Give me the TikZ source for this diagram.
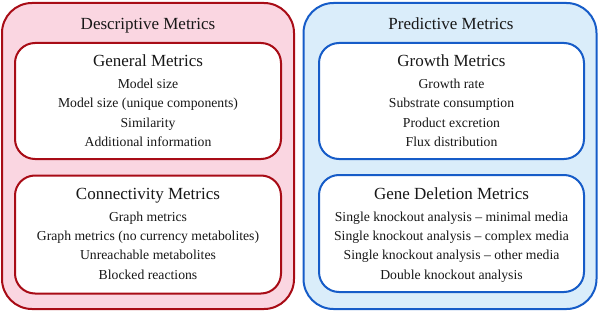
\documentclass[tikz,border=0pt]{standalone}
\usepackage{fontspec}
\setmainfont{Liberation Serif}
\usetikzlibrary{positioning}
\definecolor{descred}{RGB}{168,12,22}
\definecolor{descfill}{RGB}{250,214,225}
\definecolor{predblue}{RGB}{22,92,200}
\definecolor{predfill}{RGB}{218,237,250}
\definecolor{textgray}{RGB}{24,24,24}

\begin{document}
\begin{tikzpicture}[
  x=1pt, y=-1pt,
  outerbox/.style={draw, line width=2pt, rounded corners=30pt,
                   minimum width=292pt, minimum height=306pt, inner sep=0pt},
  innerbox/.style={draw, fill=white, line width=2pt, rounded corners=20pt,
                   minimum width=266pt, inner sep=0pt},
  toptitle/.style={anchor=base, text=textgray, font=\fontsize{17}{20}\selectfont},
  head/.style={anchor=base, text=textgray, font=\fontsize{17}{20}\selectfont},
  item/.style={anchor=base, text=textgray, font=\fontsize{13.7}{16}\selectfont}
]
  \useasboundingbox (0,0) rectangle (600,313);

  % descriptive side
  \node[outerbox, draw=descred, fill=descfill] (desc) at (148,156) {};
  \node[toptitle] (desctitle) at (148,29.3) {Descriptive Metrics};
  \node[innerbox, draw=descred, minimum height=116pt] (gen) at (148,101) {};
  \node[innerbox, draw=descred, minimum height=118pt] (conn) at (148,234.5) {};
  \node[head] (genhead) at (148,66.7) {General Metrics};
  \node[head] (connhead) at (148,199.3) {Connectivity Metrics};
  \foreach \txt [count=\i] in {Model size, Model size (unique components),
                               Similarity, Additional information}
    \node[item] (gen-\i) at (148,88.3+19.45*\i-19.45) {\txt};
  \foreach \txt [count=\i] in {Graph metrics, Graph metrics (no currency metabolites),
                               Unreachable metabolites, Blocked reactions}
    \node[item] (conn-\i) at (148,221.7+19.1*\i-19.1) {\txt};

  % predictive side
  \node[outerbox, draw=predblue, fill=predfill, minimum width=293pt] (pred) at (450,156) {};
  \node[toptitle] (predtitle) at (451,29.3) {Predictive Metrics};
  \node[innerbox, draw=predblue, minimum width=265pt, minimum height=116pt] (grow) at (451.5,101) {};
  \node[innerbox, draw=predblue, minimum width=265pt, minimum height=117pt] (gene) at (451.5,233.5) {};
  \node[head] (growhead) at (451.5,66.7) {Growth Metrics};
  \node[head] (genehead) at (451.5,199.3) {Gene Deletion Metrics};
  \foreach \txt [count=\i] in {Growth rate, Substrate consumption,
                               Product excretion, Flux distribution}
    \node[item] (grow-\i) at (451.5,88.3+19.45*\i-19.45) {\txt};
  \foreach \txt [count=\i] in {Single knockout analysis -- minimal media,
                               Single knockout analysis -- complex media,
                               Single knockout analysis -- other media,
                               Double knockout analysis}
    \node[item] (gene-\i) at (451.5,221.7+19.1*\i-19.1) {\txt};
\end{tikzpicture}
\end{document}
